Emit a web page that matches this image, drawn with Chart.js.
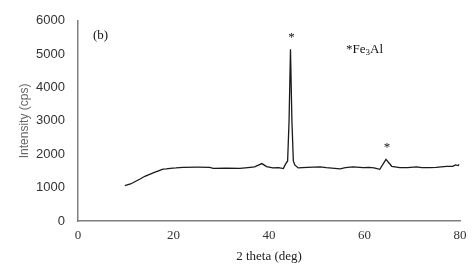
<!DOCTYPE html>
<html>
<head>
<meta charset="utf-8">
<script src="https://cdn.jsdelivr.net/npm/chart.js@4/dist/chart.umd.min.js"></script>
<style>
html,body{margin:0;padding:0;background:#fff;}
#wrap{width:474px;height:279px;position:relative;}
</style>
</head>
<body>
<div id="wrap"><canvas id="c" width="474" height="279"></canvas></div>
<script>
const twoTheta = [9.8,11,12,13,14,15,16,17,17.8,18.5,19.3,20.5,22,25,27.6,28.3,31,33.9,35.6,37,38.5,39.5,40.8,42,43,43.4,43.9,44.2,44.5,44.8,45.1,45.4,46.1,48,50.7,52,54.9,56,57.6,59.7,61,62,63.2,64.5,65.7,67.4,69,70.9,72,73.7,75,77.2,78.5,79,79.6,79.8];
const intensity = [1060,1110,1185,1260,1340,1400,1455,1510,1555,1560,1580,1590,1610,1612,1610,1580,1585,1580,1600,1620,1720,1630,1590,1600,1570,1690,1800,3000,5150,3000,1800,1680,1590,1610,1620,1600,1565,1600,1620,1600,1610,1590,1550,1845,1640,1600,1600,1620,1600,1600,1610,1640,1640,1680,1660,1700];
const xTicks = [0,20,40,60,80];
const yTicks = [0,1000,2000,3000,4000,5000,6000];
const peakMarks = [[44.5,5150],[64.5,1845]];

const points = twoTheta.map((x,i)=>({x:x,y:intensity[i]}));

const annot = {
  id:'annot',
  afterDraw(chart){
    const ctx = chart.ctx, xs = chart.scales.x, ys = chart.scales.y;
    ctx.save();
    ctx.fillStyle = '#111';
    ctx.textAlign = 'center';
    ctx.textBaseline = 'middle';
    ctx.font = '13px "Liberation Serif"';
    peakMarks.forEach(p=>{
      ctx.fillText('*', xs.getPixelForValue(p[0])+1, ys.getPixelForValue(p[1]) - 12);
    });
    ctx.textAlign = 'left';
    ctx.font = '13px "Liberation Serif"';
    ctx.fillText('(b)', chart.chartArea.left + 15, chart.chartArea.top + 15);
    let x = chart.chartArea.left + 268, y = chart.chartArea.top + 29;
    ctx.fillText('*Fe', x, y);
    x += ctx.measureText('*Fe').width;
    ctx.font = '9px "Liberation Serif"';
    ctx.fillText('3', x, y + 3);
    x += ctx.measureText('3').width;
    ctx.font = '13px "Liberation Serif"';
    ctx.fillText('Al', x, y);
    ctx.restore();
  }
};

new Chart(document.getElementById('c'), {
  type:'scatter',
  data:{datasets:[{data:points,showLine:true,borderColor:'#1a1a1a',borderWidth:1.3,pointRadius:0,tension:0,fill:false}]},
  options:{
    responsive:false,animation:false,
    layout:{padding:{top:14,right:14,left:0,bottom:0}},
    plugins:{legend:{display:false},tooltip:{enabled:false}},
    scales:{
      x:{type:'linear',min:0,max:80,
        afterBuildTicks(s){s.ticks = xTicks.map(v=>({value:v}));},
        grid:{display:false,drawTicks:false},
        border:{display:true,color:'#7f7f7f',width:1.5},
        ticks:{padding:7,color:'#333',font:{family:'"Liberation Serif"',size:13},callback:v=>String(v)},
        title:{display:true,text:'2 theta (deg)',color:'#222',font:{family:'"Liberation Serif"',size:13},padding:{top:2,bottom:15}},
        afterFit(s){s.height = 58;}
      },
      y:{type:'linear',min:0,max:6000,
        afterBuildTicks(s){s.ticks = yTicks.map(v=>({value:v}));},
        grid:{display:false,drawTicks:false},
        border:{display:true,color:'#7f7f7f',width:1.5},
        ticks:{padding:13,color:'#333',font:{family:'"Liberation Sans"',size:13},callback:v=>String(v)},
        title:{display:true,text:'Intensity (cps)',color:'#666',font:{family:'"Liberation Sans"',size:12},padding:{top:17,bottom:0}},
        afterFit(s){s.width = 78;}
      }
    }
  },
  plugins:[annot]
});
</script>
</body>
</html>
